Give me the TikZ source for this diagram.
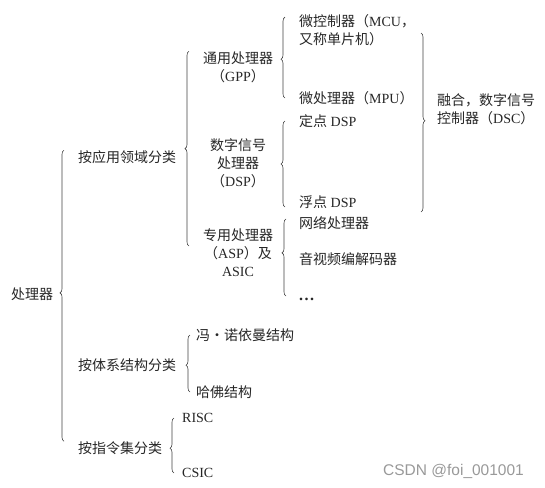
\documentclass[tikz,border=0pt]{standalone}
\usepackage{fontspec}
\setmainfont{Liberation Serif}
\newfontfamily\cjk{Noto Sans CJK SC}
\newfontfamily\wmfont{Liberation Sans}
\usetikzlibrary{decorations.pathreplacing}

\begin{document}
\begin{tikzpicture}[x=1pt,y=-1pt,
  lbl/.style={inner sep=0pt,font=\fontsize{14}{18}\selectfont,text=black!85},
  grp/.style={lbl,align=center},
  br/.style={decorate,draw=black!75,line width=0.6pt,decoration={brace,amplitude=4pt,aspect=#1}},
  br/.default=0.5]
  \useasboundingbox (0,0) rectangle (545,487);

  %root and first level
  \node[lbl,anchor=west,at={(11,294)}] (root) {\cjk 处理器};
  \node[lbl,anchor=west,at={(78,157)}] (app) {\cjk 按应用领域分类};
  \node[lbl,anchor=west,at={(78,365)}] (arch) {\cjk 按体系结构分类};
  \node[lbl,anchor=west,at={(78,448)}] (isa) {\cjk 按指令集分类};
  \coordinate (k0) at (64,0);
  \draw[br=0.51] (k0 |- isa.north) -- (k0 |- app.north);

  %by application
  \node[grp,at={(238,67)}] (gpp) {{\cjk 通用处理器}\\{\cjk （}GPP{\cjk ）}};
  \node[grp,at={(238,163)}] (dsp) {{\cjk 数字信号}\\{\cjk 处理器}\\{\cjk （}DSP{\cjk ）}};
  \node[grp,at={(238,253)}] (asp) {{\cjk 专用处理器}\\{\cjk （}ASP{\cjk ）及}\\ASIC};
  \coordinate (k1) at (189,0);
  \draw[br=0.5] ([yshift=7pt]k1 |- asp) -- (k1 |- gpp.north);

  %GPP
  \node[lbl,anchor=west,align=left,at={(299,30)}] (mcu) {{\cjk 微控制器（}MCU{\cjk ，}\\{\cjk 又称单片机）}};
  \node[lbl,anchor=west,at={(299,98)}] (mpu) {{\cjk 微处理器（}MPU{\cjk ）}};
  \coordinate (k2) at (285,0);
  \draw[br=0.48] (k2 |- mpu) -- ([yshift=-3pt]k2 |- mcu.north);

  %DSP
  \node[lbl,anchor=west,at={(299,121)}] (fix) {{\cjk 定点} DSP};
  \node[lbl,anchor=west,at={(299,202)}] (flt) {{\cjk 浮点} DSP};
  \draw[br=0.5] ([yshift=-5pt]k2 |- flt) -- (k2 |- fix);

  %ASP
  \node[lbl,anchor=west,at={(299,223)}] (net) {\cjk 网络处理器};
  \node[lbl,anchor=west,at={(299,259)}] (av) {\cjk 音视频编解码器};
  \node[lbl,anchor=west,at={(299,299)},font=\fontsize{16}{18}\selectfont\bfseries] (etc) {.\kern1.5pt.\kern1.5pt.};
  \coordinate (k3) at (286,0);
  \draw[br=0.56] ([yshift=3pt]k3 |- etc) -- ([yshift=4pt]k3 |- net);

  %merged
  \node[lbl,anchor=west,align=left,at={(437,109)}] (dsc) {{\cjk 融合，数字信号}\\{\cjk 控制器（}DSC{\cjk ）}};
  \coordinate (k4) at (421,0);
  \draw[br=0.49] ([yshift=-3pt]k4 |- mcu) -- ([yshift=-10pt]k4 |- flt);

  %by architecture
  \node[lbl,anchor=west,at={(196,335)}] (von) {\cjk 冯·诺依曼结构};
  \node[lbl,anchor=west,at={(196,392)}] (har) {\cjk 哈佛结构};
  \coordinate (k5) at (190,0);
  \draw[br=0.47] (k5 |- har) -- (k5 |- von);

  %by instruction set
  \node[lbl,anchor=west,at={(182,418)}] (risc) {RISC};
  \node[lbl,anchor=west,at={(182,473)}] (csic) {CSIC};
  \coordinate (k6) at (174,0);
  \draw[br=0.45] (k6 |- csic) -- (k6 |- risc);

  \node[inner sep=0pt,anchor=west,text=black!40,font=\wmfont\fontsize{15.5}{17}\selectfont,at={(383,471)}] (wm) {CSDN @foi\_001001};
\end{tikzpicture}
\end{document}
